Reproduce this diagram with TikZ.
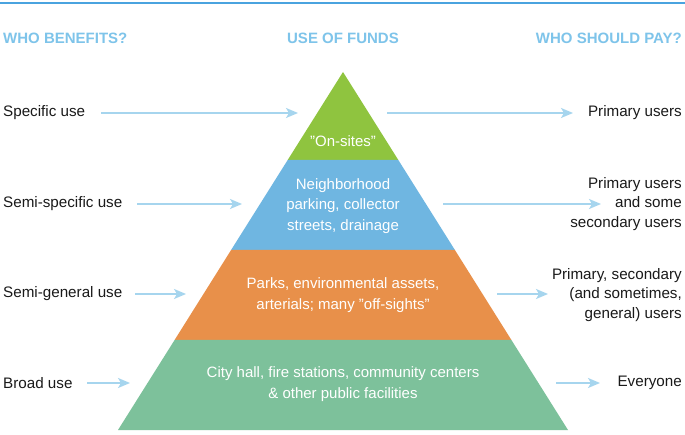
\documentclass[tikz,border=0pt]{standalone}
\usepackage{fontspec}
\setmainfont{Liberation Sans}
\usetikzlibrary{arrows.meta}
\definecolor{topline}{HTML}{4AA3DF}
\definecolor{headc}{HTML}{7EC4EA}
\definecolor{arrc}{HTML}{A6D5EE}
\definecolor{lgreen}{HTML}{8FC43F}
\definecolor{lblue}{HTML}{6FB6E1}
\definecolor{lorange}{HTML}{E8904A}
\definecolor{lteal}{HTML}{7DC19B}
\definecolor{txt}{HTML}{1A1A1A}
\begin{document}
\begin{tikzpicture}[x=1pt,y=-1pt,
  header/.style={font=\fontsize{15}{18}\selectfont\bfseries, text=headc, inner sep=0pt},
  lab/.style={font=\fontsize{15.2}{19.2}\selectfont, text=txt, inner sep=0pt},
  rlab/.style={lab, anchor=east, align=right},
  llab/.style={lab, anchor=west},
  intext/.style={font=\fontsize{15}{20.5}\selectfont, text=white, align=center, inner sep=0pt},
  conn/.style={draw=arrc, line width=1.6pt, -{Stealth[length=12pt,width=10pt,inset=3pt]}}
]
\useasboundingbox (0,0) rectangle (685,435);
\fill[white] (0,0) rectangle (685,435);
\draw[topline, line width=2pt] (0,3) -- (685,3);

% headers
\node[header, anchor=west] (h1) at (3,38) {WHO BENEFITS?};
\node[header] (h2) at (343,38) {USE OF FUNDS};
\node[header, anchor=east] (h3) at (682,38) {WHO SHOULD PAY?};

% pyramid layers
\fill[lgreen] (343,72) -- (398.3,160) -- (287.7,160) -- cycle;
\fill[lblue] (287.7,160) -- (398.3,160) -- (454.9,250) -- (231.1,250) -- cycle;
\fill[lorange] (231.1,250) -- (454.9,250) -- (511.4,340) -- (174.6,340) -- cycle;
\fill[lteal] (174.6,340) -- (511.4,340) -- (568,430) -- (118,430) -- cycle;

\node[intext] (t1) at (343,141) {"On-sites"};
\node[intext] (t2) at (343,206) {Neighborhood\\parking, collector\\streets, drainage};
\node[intext] (t3) at (343,295) {Parks, environmental assets,\\arterials; many "off-sights"};
\node[intext] (t4) at (343,384) {City hall, fire stations, community centers\\\& other public facilities};

% left labels
\node[llab] (l1) at (3,113) {Specific use};
\node[llab] (l2) at (3,204) {Semi-specific use};
\node[llab] (l3) at (3,294) {Semi-general use};
\node[llab] (l4) at (3,383) {Broad use};

% right labels
\node[rlab] (r1) at (682,113) {Primary users};
\node[rlab] (r2) at (682,204) {Primary users\\and some\\secondary users};
\node[rlab] (r3) at (682,295) {Primary, secondary\\(and sometimes,\\general) users};
\node[rlab] (r4) at (682,383) {Everyone};

% arrow endpoints
\coordinate (a1s) at (101,113); \coordinate (a1e) at (298,113);
\coordinate (a2s) at (137,204); \coordinate (a2e) at (242,204);
\coordinate (a3s) at (135,294); \coordinate (a3e) at (186,294);
\coordinate (a4s) at (87,383);  \coordinate (a4e) at (130,383);
\coordinate (b1s) at (387,113); \coordinate (b1e) at (573,113);
\coordinate (b2s) at (443,204); \coordinate (b2e) at (601,204);
\coordinate (b3s) at (497,294); \coordinate (b3e) at (548,294);
\coordinate (b4s) at (556,383); \coordinate (b4e) at (600,383);

\foreach \p in {a1,a2,a3,a4,b1,b2,b3,b4}
  \draw[conn] (\p s) -- (\p e);
\end{tikzpicture}
\end{document}
